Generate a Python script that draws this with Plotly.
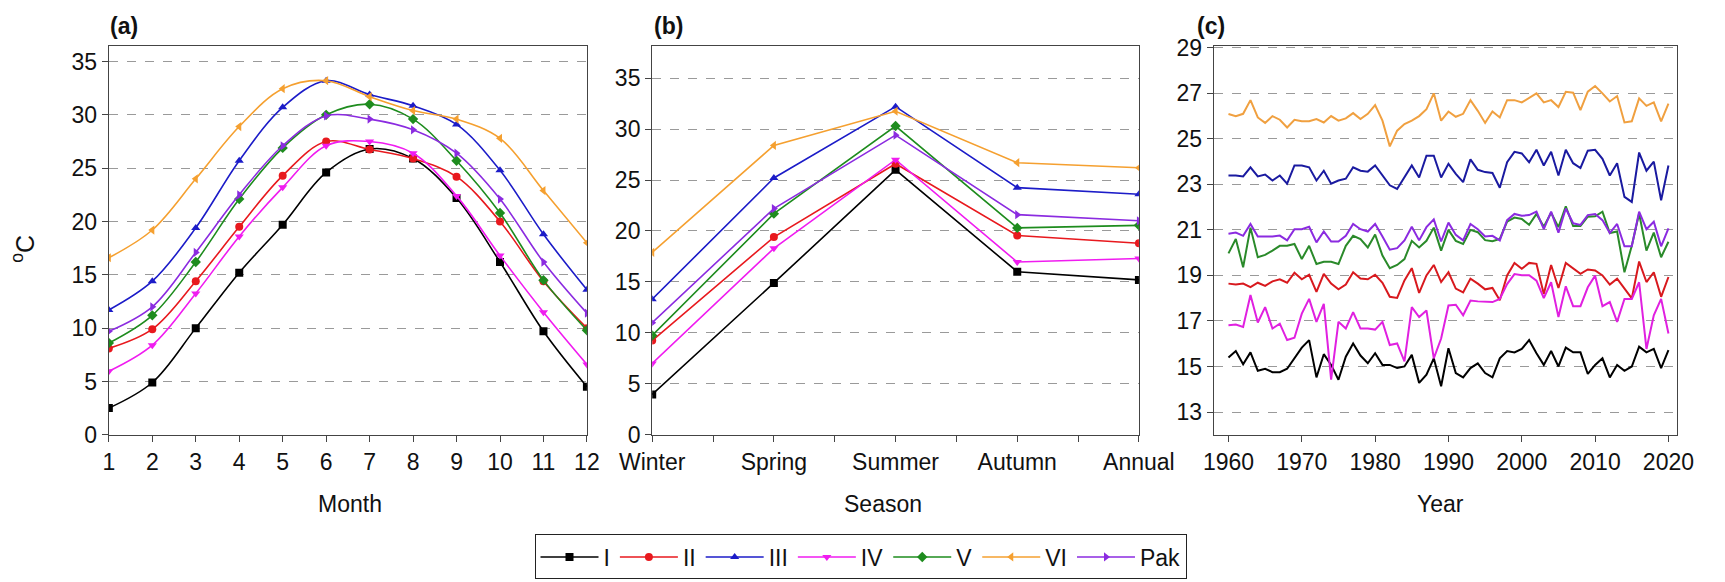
import plotly.graph_objects as go

W, H = 1725, 582
FONT = "Liberation Sans, Arial, sans-serif"

names = ["I", "II", "III", "IV", "V", "VI", "Pak"]
colors = ["#000000", "#e8191e", "#1c1cc8", "#f01cf0", "#1e8c1e", "#f5a030", "#8b2be0"]
c_colors = ["#000000", "#d8191e", "#1a1aa0", "#e020e0", "#2a8a2a", "#f0a040", "#8b2be0"]
symbols = ["square", "circle", "triangle-up", "triangle-down", "diamond", "triangle-left", "triangle-right"]

months = list(range(1, 13))
monthly = {
    "I":   [2.5, 4.9, 10.0, 15.2, 19.7, 24.6, 26.8, 25.9, 22.2, 16.2, 9.7, 4.5],
    "II":  [8.1, 9.9, 14.4, 19.5, 24.3, 27.5, 26.75, 25.9, 24.2, 20.0, 14.4, 10.0],
    "III": [11.7, 14.4, 19.4, 25.7, 30.7, 33.2, 31.9, 30.85, 29.1, 24.8, 18.8, 13.6],
    "IV":  [5.95, 8.4, 13.25, 18.6, 23.2, 27.1, 27.5, 26.4, 22.4, 16.8, 11.5, 6.6],
    "V":   [8.6, 11.2, 16.2, 22.1, 26.9, 30.0, 31.0, 29.6, 25.7, 20.8, 14.5, 9.8],
    "VI":  [16.6, 19.2, 24.0, 28.9, 32.45, 33.2, 31.7, 30.4, 29.6, 27.8, 22.9, 18.0],
    "Pak": [9.7, 12.0, 17.1, 22.5, 27.1, 29.9, 29.6, 28.6, 26.4, 22.1, 16.2, 11.4],
}

seasons = ["Winter", "Spring", "Summer", "Autumn", "Annual"]
seasonal = {
    "I":   [3.96, 14.9, 26.0, 16.0, 15.2],
    "II":  [9.25, 19.4, 26.6, 19.55, 18.8],
    "III": [13.3, 25.2, 32.2, 24.25, 23.6],
    "IV":  [7.0, 18.3, 27.0, 16.95, 17.3],
    "V":   [9.74, 21.7, 30.3, 20.3, 20.55],
    "VI":  [17.9, 28.4, 31.75, 26.7, 26.2],
    "Pak": [11.0, 22.2, 29.4, 21.6, 21.0],
}

years = list(range(1960, 2021))
annual = {
    "I": [15.39, 15.68, 15.1, 15.62, 14.81, 14.9, 14.75, 14.75, 14.9, 15.39,
          15.83, 16.16, 14.52, 15.54, 15.07, 14.42, 15.43, 16.01, 15.48, 15.14,
          15.58, 15.07, 15.07, 14.93, 15.0, 15.51, 14.28, 14.64, 15.36, 14.13,
          15.8, 14.71, 14.52, 14.93, 15.14, 14.71, 14.52, 15.36, 15.68, 15.62,
          15.77, 16.16, 15.58, 15.07, 15.68, 15.0, 15.83, 15.62, 15.62, 14.67,
          15.07, 15.36, 14.52, 15.07, 14.81, 15.0, 15.87, 15.62, 15.77, 14.93, 15.72],
    "II": [18.64, 18.6, 18.64, 18.49, 18.68, 18.54, 18.74, 18.83, 18.68, 19.12,
           18.83, 19.03, 18.28, 19.07, 18.64, 18.39, 18.6, 19.14, 18.86, 18.83,
           19.03, 18.68, 18.06, 18.01, 18.78, 19.32, 18.23, 19.0, 19.46, 18.71,
           19.14, 18.42, 18.25, 18.86, 18.64, 18.39, 18.45, 17.91, 19.0, 19.55,
           19.29, 19.55, 19.51, 18.18, 19.46, 18.45, 19.55, 19.32, 19.07, 19.26,
           19.22, 19.0, 18.6, 18.86, 18.45, 17.99, 19.61, 18.71, 19.14, 18.06, 18.93],
    "III": [23.39, 23.39, 23.35, 23.75, 23.35, 23.43, 23.17, 23.39, 23.03, 23.83,
            23.83, 23.75, 23.17, 23.6, 23.03, 23.17, 23.25, 23.75, 23.6, 23.56,
            23.83, 23.39, 22.96, 22.8, 23.3, 23.83, 23.3, 24.26, 24.26, 23.3,
            23.9, 23.46, 23.1, 24.1, 23.64, 23.54, 23.5, 22.85, 23.97, 24.43,
            24.36, 23.97, 24.52, 23.83, 24.43, 23.39, 24.52, 23.93, 23.72, 24.48,
            24.52, 24.12, 23.39, 23.93, 22.45, 22.23, 24.4, 23.6, 24.0, 22.3, 23.83],
    "IV": [16.81, 16.84, 16.74, 18.14, 16.93, 17.61, 16.67, 16.88, 16.16, 16.26,
           17.32, 17.97, 16.96, 17.75, 14.42, 16.96, 16.67, 17.39, 16.67, 16.67,
           16.62, 16.96, 15.94, 16.01, 15.22, 17.61, 17.17, 17.46, 15.36, 16.23,
           17.68, 17.71, 17.25, 17.9, 17.86, 17.86, 17.83, 17.97, 18.62, 19.06,
           19.01, 19.01, 18.77, 18.0, 18.7, 17.17, 18.52, 17.65, 17.65, 18.48,
           18.99, 17.65, 17.83, 16.96, 17.97, 17.97, 18.7, 15.77, 17.25, 17.97, 16.45],
    "V": [19.97, 20.6, 19.36, 21.1, 19.8, 19.9, 20.09, 20.3, 20.3, 20.38,
          19.72, 20.3, 19.5, 19.6, 19.6, 19.5, 20.3, 20.74, 20.6, 20.23,
          20.8, 19.87, 19.32, 19.46, 19.72, 20.52, 20.23, 20.52, 21.1, 20.09,
          21.0, 20.52, 20.38, 21.0, 20.9, 20.55, 20.5, 20.6, 21.36, 21.54,
          21.48, 21.22, 21.7, 21.14, 21.75, 21.12, 22.04, 21.17, 21.17, 21.58,
          21.6, 21.8, 20.86, 20.93, 19.14, 20.3, 21.72, 20.09, 20.88, 19.8, 20.48],
    "VI": [26.09, 25.99, 26.1, 26.7, 25.94, 25.7, 26.0, 25.84, 25.5, 25.84,
           25.77, 25.77, 25.87, 25.72, 26.0, 25.8, 25.9, 26.13, 25.87, 26.1,
           26.48, 25.8, 24.67, 25.36, 25.65, 25.8, 26.0, 26.3, 27.0, 25.8,
           26.2, 25.97, 26.1, 26.7, 26.23, 25.7, 26.2, 25.94, 26.7, 26.7,
           26.6, 26.8, 27.0, 26.6, 26.7, 26.4, 27.07, 27.03, 26.26, 27.07,
           27.32, 27.0, 26.64, 26.88, 25.72, 25.77, 26.78, 26.45, 26.6, 25.77, 26.55],
    "Pak": [20.83, 20.88, 20.74, 21.26, 20.71, 20.71, 20.71, 20.75, 20.54, 21.03,
            21.03, 21.14, 20.45, 20.93, 20.49, 20.49, 20.74, 21.26, 21.03, 20.93,
            21.26, 20.71, 20.13, 20.2, 20.54, 21.14, 20.54, 21.12, 21.46, 20.49,
            21.32, 20.78, 20.54, 21.26, 21.03, 20.71, 20.74, 20.54, 21.43, 21.7,
            21.62, 21.65, 21.8, 21.03, 21.8, 20.88, 21.94, 21.29, 21.22, 21.65,
            21.7, 21.43, 20.86, 21.26, 20.28, 20.28, 21.8, 21.03, 21.36, 20.28, 21.07],
}

fig = go.Figure()

for i, n in enumerate(names):
    fig.add_trace(go.Scatter(
        x=months, y=monthly[n], name=n, mode="lines+markers",
        line=dict(color=colors[i], width=1.6, shape="spline", smoothing=1.0),
        marker=dict(symbol=symbols[i], size=8, color=colors[i]),
        xaxis="x", yaxis="y", showlegend=True))
for i, n in enumerate(names):
    fig.add_trace(go.Scatter(
        x=list(range(len(seasons))), y=seasonal[n], name=n, mode="lines+markers",
        line=dict(color=colors[i], width=1.6),
        marker=dict(symbol=symbols[i], size=8, color=colors[i]),
        xaxis="x2", yaxis="y2", showlegend=False))
for i, n in enumerate(names):
    fig.add_trace(go.Scatter(
        x=years, y=annual[n], name=n, mode="lines",
        line=dict(color=c_colors[i], width=2.0),
        xaxis="x3", yaxis="y3", showlegend=False))

ytop, ybot = 36, 442
ydom = [1 - ybot / H, 1 - ytop / H]
dom_a = [79 / W, 577 / W]
dom_b = [645 / W, 1152 / W]
dom_c = [1230 / W, 1712 / W]

FS = 23
tickfont = dict(family=FONT, size=FS, color="#111")
axcommon = dict(showline=True, linecolor="#444", linewidth=1.3, mirror=True,
                ticks="outside", ticklen=6, tickcolor="#444", tickfont=tickfont,
                zeroline=False)
ygrid = dict(showgrid=True, gridcolor="#9a9a9a", griddash="dash", gridwidth=1)

fig.update_layout(
    width=W, height=H,
    margin=dict(l=0, r=0, t=0, b=0),
    paper_bgcolor="white", plot_bgcolor="white",
    font=dict(family=FONT, size=FS, color="#111"),
    xaxis=dict(domain=dom_a, range=[1, 12], tickmode="array", tickvals=months,
               showgrid=False, anchor="y", **axcommon),
    yaxis=dict(domain=ydom, range=[0, 36.5], tickmode="array",
               tickvals=[0, 5, 10, 15, 20, 25, 30, 35], anchor="x", **ygrid, **axcommon),
    xaxis2=dict(domain=dom_b, range=[0, 4], tickmode="array",
                tickvals=list(range(len(seasons))), ticktext=seasons,
                minor=dict(tickmode="array", tickvals=[0.5, 1.5, 2.5, 3.5],
                           ticks="outside", ticklen=6, tickcolor="#444", showgrid=False),
                showgrid=False, anchor="y2", **axcommon),
    yaxis2=dict(domain=ydom, range=[0, 38.2], tickmode="array",
                tickvals=[0, 5, 10, 15, 20, 25, 30, 35], anchor="x2", **ygrid, **axcommon),
    xaxis3=dict(domain=dom_c, range=[1958.0, 2021.1], tickmode="array",
                tickvals=[1960, 1970, 1980, 1990, 2000, 2010, 2020],
                showgrid=False, anchor="y3", **axcommon),
    yaxis3=dict(domain=ydom, range=[12.0, 29.1], tickmode="array",
                tickvals=[13, 15, 17, 19, 21, 23, 25, 27, 29], anchor="x3", **ygrid, **axcommon),
    legend=dict(orientation="h", x=0.4997, xanchor="center", y=1 - 546 / H, yanchor="top",
                bordercolor="#222", borderwidth=1, bgcolor="white",
                font=dict(family=FONT, size=FS, color="#111"),
                itemwidth=58, tracegroupgap=0),
    showlegend=True,
)

for txt, xp in [("<b>(a)</b>", 78), ("<b>(b)</b>", 645), ("<b>(c)</b>", 1210)]:
    fig.add_annotation(text=txt, x=xp / W, y=1 - 16 / H, xref="paper", yref="paper",
                       xanchor="left", yanchor="middle", showarrow=False,
                       font=dict(family=FONT, size=FS, color="#111"))
for txt, xc in [("Month", 330), ("Season", 885), ("Year", 1466)]:
    fig.add_annotation(text=txt, x=xc / W, y=1 - 514 / H, xref="paper", yref="paper",
                       xanchor="center", yanchor="middle", showarrow=False,
                       font=dict(family=FONT, size=FS, color="#111"))
fig.add_annotation(text="<sup>o</sup>C", x=0.0, y=1 - 248 / H, xref="paper", yref="paper",
                   xanchor="left", yanchor="middle", showarrow=False, textangle=-90,
                   xshift=-28, font=dict(family=FONT, size=25, color="#111"))

fig.write_html("out.html")
